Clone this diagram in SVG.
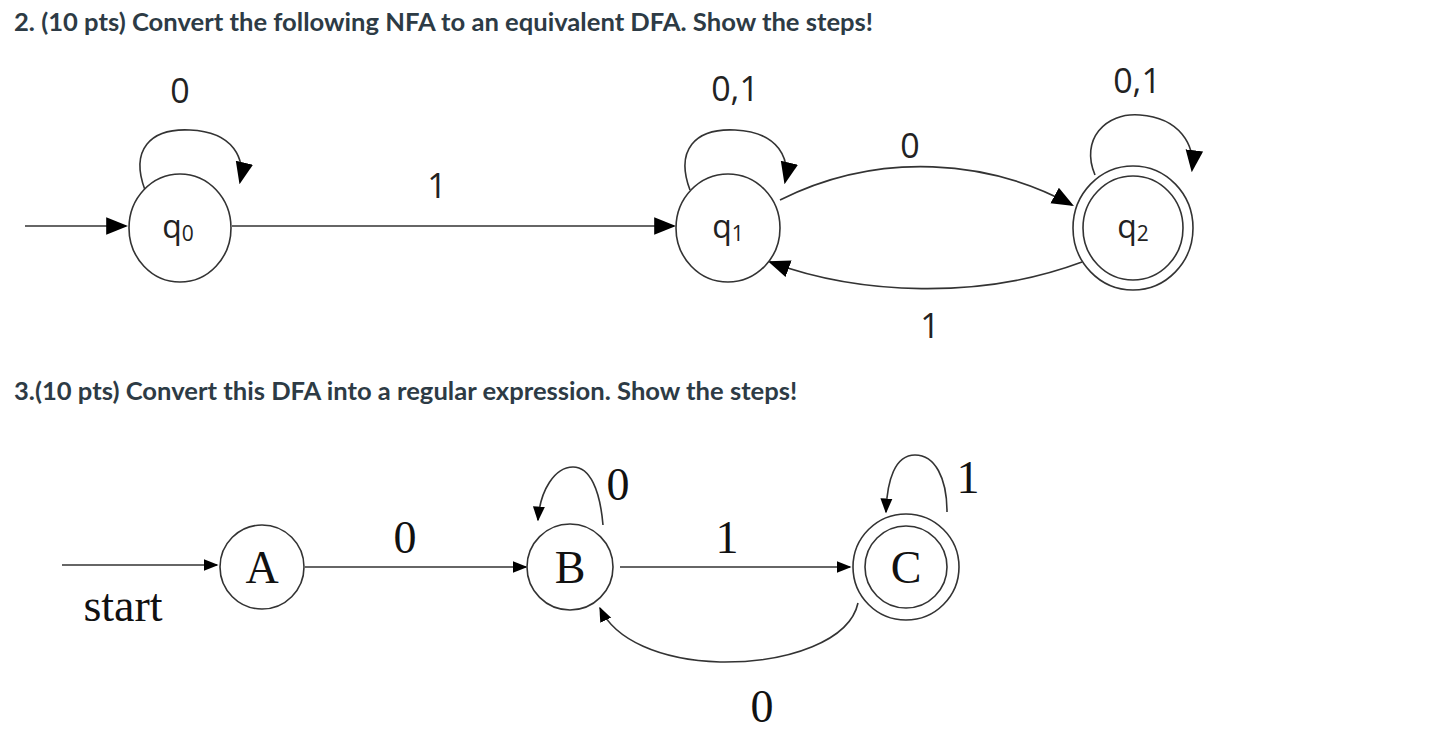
<svg xmlns="http://www.w3.org/2000/svg" width="1430" height="743" viewBox="0 0 1430 743">
<style>
.h{font-family:Lato,"Liberation Sans",sans-serif;font-weight:bold;font-size:25.6px;fill:#2d3b45}
.s{font-family:"Open Sans","Noto Sans",sans-serif;font-size:34px;fill:#222}
.q{font-family:"Open Sans","Noto Sans",sans-serif;font-size:32px;fill:#222}
.t{font-family:"Liberation Serif",serif;font-size:46px;fill:#111}
.n{fill:#fff;stroke:#333;stroke-width:1.6}
.e{fill:none;stroke:#333;stroke-width:1.6}
</style>
<defs>
<marker id="a" viewBox="0 0 10 10" refX="9" refY="5" markerWidth="15" markerHeight="15" markerUnits="userSpaceOnUse" orient="auto"><path d="M0,1L10,5L0,9z" fill="#000"/></marker>
<marker id="b" viewBox="0 0 10 10" refX="9" refY="5" markerWidth="22" markerHeight="22" markerUnits="userSpaceOnUse" orient="auto"><path d="M0,1L10,5L0,9z" fill="#000"/></marker>
</defs>
<rect width="1430" height="743" fill="#fff"/>
<text class="h" x="14" y="31">2. (10 pts) Convert the following NFA to an equivalent DFA. Show the steps!</text>
<text class="h" x="14" y="400">3.(10 pts) Convert this DFA into a regular expression. Show the steps!</text>
<g id="edges">
<path class="e" d="M25,226H126" marker-end="url(#b)"/>
<path class="e" d="M232,226H674" marker-end="url(#b)"/>
<path class="e" d="M145,190C130,150 150,128 190,130C235,132 245,160 240,182" marker-end="url(#b)"/>
<path class="e" d="M690,190C675,150 695,128 735,130C780,132 790,160 785,182" marker-end="url(#b)"/>
<path class="e" d="M1095,175C1080,140 1105,112 1140,115C1180,118 1195,145 1192,170" marker-end="url(#b)"/>
<path class="e" d="M780,200C880,150 990,160 1072,205" marker-end="url(#b)"/>
<path class="e" d="M1082,262C980,300 860,295 770,262" marker-end="url(#b)"/>
<path class="e" d="M62,565H217" marker-end="url(#a)"/>
<path class="e" d="M305,567H526" marker-end="url(#a)"/>
<path class="e" d="M620,567H850" marker-end="url(#a)"/>
<path class="e" d="M603,525C600,490 590,467 573,467C555,467 540,490 538,520" marker-end="url(#a)"/>
<path class="e" d="M947,512C947,478 935,455 915,455C895,455 887,480 886,512" marker-end="url(#a)"/>
<path class="e" d="M858,603C850,640 790,663 720,662C660,660 615,640 600,608" marker-end="url(#a)"/>
</g>
<g id="q0"><ellipse class="n" cx="180" cy="228" rx="51" ry="54"/><text class="q" x="178" y="238" text-anchor="middle">q<tspan font-size="21" dy="3">0</tspan></text></g>
<g id="q1"><ellipse class="n" cx="728" cy="228" rx="52" ry="54"/><text class="q" x="728" y="238" text-anchor="middle">q<tspan font-size="21" dy="3">1</tspan></text></g>
<g id="q2"><ellipse class="n" cx="1133" cy="228" rx="60" ry="62"/><ellipse class="n" cx="1133" cy="228" rx="50" ry="52"/><text class="q" x="1133" y="238" text-anchor="middle">q<tspan font-size="21" dy="3">2</tspan></text></g>
<g id="labels1">
<text class="s" x="180" y="103" text-anchor="middle">0</text>
<text class="s" x="437" y="198" text-anchor="middle">1</text>
<text class="s" x="735" y="101" text-anchor="middle">0,1</text>
<text class="s" x="910" y="158" text-anchor="middle">0</text>
<text class="s" x="1137" y="93" text-anchor="middle">0,1</text>
<text class="s" x="930" y="338" text-anchor="middle">1</text>
</g>
<g id="A"><circle class="n" cx="262" cy="567" r="42"/><text class="t" x="262" y="583" text-anchor="middle">A</text></g>
<g id="B"><circle class="n" cx="570" cy="567" r="43"/><text class="t" x="570" y="583" text-anchor="middle">B</text></g>
<g id="C"><circle class="n" cx="906" cy="567" r="53"/><circle class="n" cx="906" cy="567" r="41"/><text class="t" x="906" y="583" text-anchor="middle">C</text></g>
<g id="labels2">
<text class="t" x="123" y="621" text-anchor="middle">start</text>
<text class="t" x="405" y="553" text-anchor="middle">0</text>
<text class="t" x="727" y="553" text-anchor="middle">1</text>
<text class="t" x="618" y="500" text-anchor="middle">0</text>
<text class="t" x="968" y="493" text-anchor="middle">1</text>
<text class="t" x="762" y="722" text-anchor="middle">0</text>
</g>
</svg>
